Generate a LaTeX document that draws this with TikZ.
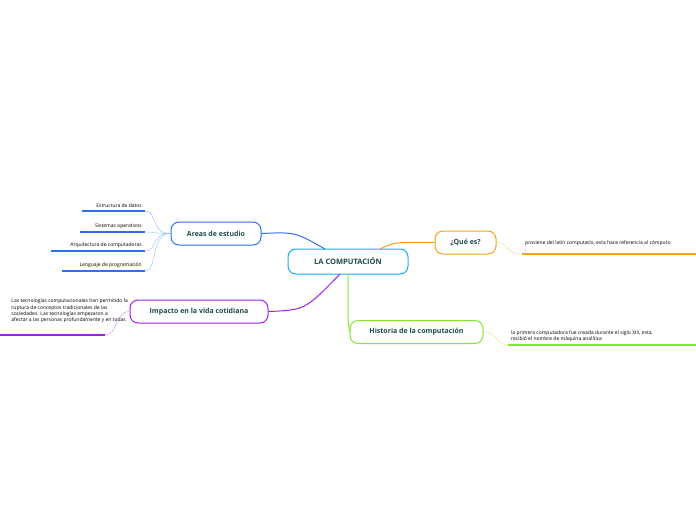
\documentclass[tikz,border=0pt]{standalone}
\usepackage{fontspec}
\setmainfont{Open Sans}
\definecolor{cblue}{HTML}{2F6FE8}
\definecolor{corange}{HTML}{F7A21B}
\definecolor{cgreen}{HTML}{86E62A}
\definecolor{cpurple}{HTML}{A020E8}
\definecolor{ctext}{HTML}{1B4A4A}
\begin{document}
\begin{tikzpicture}[x=1pt,y=-1pt,
  topic/.style={draw,line width=1pt,rounded corners=8pt,minimum height=23pt,font=\bfseries\fontsize{7}{8}\selectfont,text=ctext},
  leaf/.style={font=\fontsize{5}{6.3}\selectfont,inner sep=1pt},
  ul/.style={line width=1.2pt}]
\useasboundingbox (0,0) rectangle (696,520);
\node[topic,draw=cblue!60!cyan,minimum width=120pt,minimum height=25pt,font=\bfseries\fontsize{7.5}{9}\selectfont] (c) at (348,261.5) {LA COMPUTACIÓN};
\node[topic,draw=cblue,minimum width=90pt] (a) at (216,233.5) {Areas de estudio};
\node[topic,draw=corange,minimum width=61pt] (q) at (465.5,242.5) {¿Qué es?};
\node[topic,draw=cgreen,minimum width=133pt] (h) at (416.5,332) {Historia de la computación};
\node[topic,draw=cpurple,minimum width=138pt] (i) at (199,311.5) {Impacto en la vida cotidiana};
\draw[cblue,line width=1pt] (a.east) .. controls (295,232) .. (325,249);
\draw[corange,line width=1pt] (380,249) .. controls (395,242) .. (q.west);
\draw[cgreen,line width=1pt] (348,274) -- (348,320) -- (h.west);
\draw[cpurple,line width=1pt] (i.east) .. controls (305,310) .. (340,274);
% areas leaves
\foreach \t/\y/\xl [count=\k] in {Estructura de datos/211/82,Sistemas operativos/232/80,Arquitectura de computadoras/251/51,Lenguaje de programación/271/62}{
  \node[leaf,anchor=south east] (l\k) at (143,\y-2) {\t};
  \coordinate (e\k) at (145,\y);
  \draw[cblue,ul] (\xl,\y) -- (e\k);
  \draw[cblue!50] (e\k) .. controls (158,\y) and (150,233.5) .. (a.west);
}
% que es
\node[leaf,anchor=south west,align=left] (qt) at (524,252) {proviene del latín computatío, esta hace referencia al cómputo\\.};
\coordinate (qe) at (522,254);
\draw[corange,ul] (qe) -- (696,254);
\draw[corange!50] (q.east) .. controls (510,243) and (505,254) .. (qe);
% historia
\node[leaf,anchor=south west,align=left] (ht) at (510,343) {la primera computadora fue creada durante el siglo XIX, esta,\\recibió el nombre de máquina analítica};
\coordinate (he) at (508,345);
\draw[cgreen,ul] (he) -- (696,345);
\draw[cgreen!50] (h.east) .. controls (498,332) and (495,345) .. (he);
% impacto
\node[leaf,anchor=south east,align=left] (it) at (129,324) {Las tecnologías computacionales han permitido la\\ruptura de conceptos tradicionales de las\\sociedades. Las tecnologías empezaron a\\afectar a las personas profundamente y en todas};
\coordinate (ie) at (105,335);
\draw[cpurple,ul] (0,335) -- (ie);
\draw[cpurple!50] (ie) .. controls (118,335) and (115,311.5) .. (i.west);
\end{tikzpicture}
\end{document}
